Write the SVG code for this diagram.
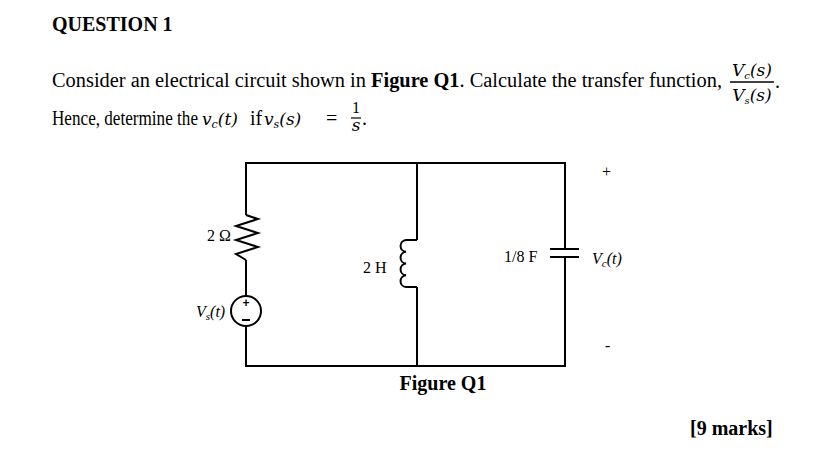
<svg xmlns="http://www.w3.org/2000/svg" width="831" height="451" viewBox="0 0 831 451">
<style>
.t{font-family:"Liberation Serif",serif;font-size:20px;fill:#000}
.b{font-weight:bold}
.m{font-family:"DejaVu Serif","Liberation Serif",serif;font-style:italic;font-size:17px}
.s{font-family:"Liberation Serif",serif;font-size:16px}
.w{stroke:#000;stroke-width:2;fill:none}
</style>
<rect width="831" height="451" fill="#fff"/>
<text class="t b" x="52" y="31" font-size="20">QUESTION 1</text>
<text class="t" x="52" y="87" textLength="670" lengthAdjust="spacingAndGlyphs">Consider an electrical circuit shown in <tspan class="b">Figure Q1</tspan>. Calculate the transfer function,</text>
<g id="frac1">
<text class="m" x="752" y="76" text-anchor="middle" font-size="15">V<tspan font-size="10" dy="3">c</tspan><tspan dy="-3">(s)</tspan></text>
<line x1="730" y1="82" x2="774" y2="82" stroke="#000" stroke-width="1.3"/>
<text class="m" x="752" y="101" text-anchor="middle" font-size="15">V<tspan font-size="10" dy="3">s</tspan><tspan dy="-3">(s)</tspan></text>
<text class="t" x="775" y="88">.</text>
</g>
<text class="t" x="52" y="125" textLength="146" lengthAdjust="spacingAndGlyphs">Hence, determine the</text>
<text class="m" x="202" y="125">v<tspan font-size="11" dy="3">c</tspan><tspan dy="-3">(t)</tspan></text>
<text class="t" x="250" y="125">if</text>
<text class="m" x="264" y="125">v<tspan font-size="11" dy="3">s</tspan><tspan dy="-3">(s)</tspan></text>
<text class="t" x="326" y="125">=</text>
<g id="frac2">
<text class="s" x="356" y="113" font-size="12" text-anchor="middle">1</text>
<line x1="351" y1="118" x2="361" y2="118" stroke="#000" stroke-width="1.2"/>
<text class="m" x="356" y="131" font-size="12" text-anchor="middle">s</text>
<text class="t" x="362" y="125">.</text>
</g>
<g id="connectors">
<path class="w" d="M246 215 V163 H565 V249 M565 257 V366 H246 V326 M246 296 V260 M417 163 V240 M417 287 V366"/>
</g>
<g id="resistor"><path class="w" d="M246 215 L258 219 L236 226 L258 233 L236 240 L258 247 L236 254 L246 260"/>
<text class="s" x="207" y="241">2 Ω</text></g>
<g id="source"><circle class="w" cx="246" cy="311" r="15"/>
<text x="246" y="307" text-anchor="middle" font-family="Liberation Sans,sans-serif" font-size="12" font-weight="bold">+</text>
<line x1="242" y1="320" x2="250" y2="320" stroke="#000" stroke-width="2"/>
<text class="s" x="196" y="317" font-style="italic">V<tspan font-size="11" dy="3">s</tspan><tspan dy="-3">(t)</tspan></text></g>
<g id="inductor"><path class="w" d="M417 240 H406 a6 5.9 0 0 0 0 11.75 a6 5.9 0 0 0 0 11.75 a6 5.9 0 0 0 0 11.75 a6 5.9 0 0 0 0 11.75 H417"/>
<text class="s" x="363" y="273">2 H</text></g>
<g id="capacitor"><path class="w" d="M550 249 H579 M550 257 H579"/>
<text class="s" x="504" y="262">1/8 F</text>
<text class="s" x="592" y="264" font-style="italic">V<tspan font-size="11" dy="3">c</tspan><tspan dy="-3">(t)</tspan></text>
<text class="s" x="602" y="177">+</text>
<text class="s" x="605" y="351">-</text></g>
<text class="t b" x="443" y="390" text-anchor="middle" font-size="19">Figure Q1</text>
<text class="t b" x="690" y="435" font-size="19">[9 marks]</text>
</svg>
